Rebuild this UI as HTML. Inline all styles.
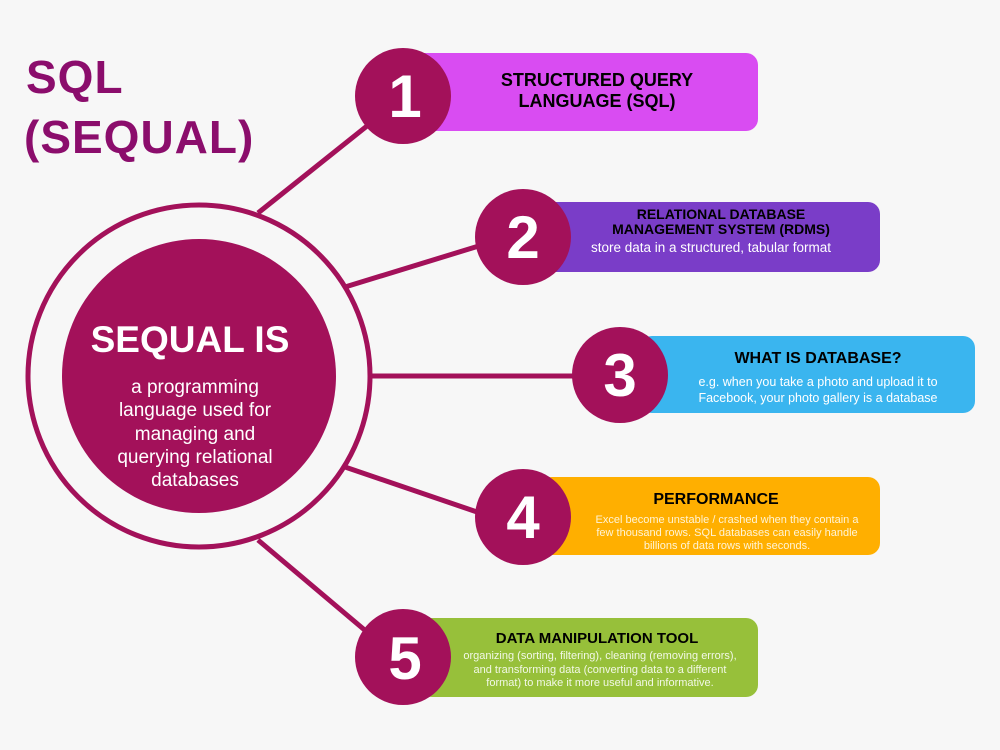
<!DOCTYPE html>
<html><head><meta charset="utf-8"><style>
html,body{margin:0;padding:0;background:#f7f7f7;}
svg{display:block;}
text{font-family:"Liberation Sans",sans-serif;}
</style></head><body>
<svg width="1000" height="750" viewBox="0 0 1000 750" xmlns="http://www.w3.org/2000/svg">
<rect width="1000" height="750" fill="#f7f7f7"/>
<g fill="#8b0d6c" font-weight="bold" font-size="46">
<text x="26" y="93" letter-spacing="1">SQL</text>
<text x="24" y="153" letter-spacing="1">(SEQUAL)</text>
</g>
<g stroke="#a3115a" stroke-width="5" fill="none">
<line x1="258" y1="213" x2="372" y2="122"/>
<line x1="345" y1="287" x2="482" y2="245"/>
<line x1="370" y1="376" x2="578" y2="376"/>
<line x1="345" y1="467" x2="480" y2="513"/>
<line x1="258" y1="540" x2="367" y2="632"/>
<circle cx="199" cy="376" r="171"/>
</g>
<circle cx="199" cy="376" r="137" fill="#a3115a"/>
<text x="190" y="352" fill="#fff" font-weight="bold" font-size="37" text-anchor="middle">SEQUAL IS</text>
<g fill="#fff" font-size="19" text-anchor="middle">
<text x="195" y="393">a programming</text>
<text x="195" y="416">language used for</text>
<text x="195" y="440">managing and</text>
<text x="195" y="463">querying relational</text>
<text x="195" y="486">databases</text>
</g>
<rect x="410" y="53" width="348" height="78" rx="12" fill="#d94cf2"/>
<rect x="540" y="202" width="340" height="70" rx="12" fill="#7a3dc8"/>
<rect x="640" y="336" width="335" height="77" rx="12" fill="#3ab5ef"/>
<rect x="540" y="477" width="340" height="78" rx="12" fill="#ffaf00"/>
<rect x="420" y="618" width="338" height="79" rx="12" fill="#97c03a"/>
<g fill="#a3115a">
<circle cx="403" cy="96" r="48"/>
<circle cx="523" cy="237" r="48"/>
<circle cx="620" cy="375" r="48"/>
<circle cx="523" cy="517" r="48"/>
<circle cx="403" cy="657" r="48"/>
</g>
<g fill="#fff" font-weight="bold" font-size="60" text-anchor="middle">
<text x="405" y="117">1</text>
<text x="523" y="258">2</text>
<text x="620" y="396">3</text>
<text x="523" y="538">4</text>
<text x="405" y="679">5</text>
</g>
<g fill="#000" font-weight="bold" text-anchor="middle">
<text x="597" y="86" font-size="18">STRUCTURED QUERY</text>
<text x="597" y="107" font-size="18">LANGUAGE (SQL)</text>
<text x="721" y="219" font-size="14">RELATIONAL DATABASE</text>
<text x="721" y="234" font-size="14">MANAGEMENT SYSTEM (RDMS)</text>
<text x="818" y="363" font-size="16">WHAT IS DATABASE?</text>
<text x="716" y="504" font-size="16">PERFORMANCE</text>
<text x="597" y="643" font-size="15">DATA MANIPULATION TOOL</text>
</g>
<g fill="#fff" text-anchor="middle">
<text x="711" y="252" font-size="13.5">store data in a structured, tabular format</text>
<text x="818" y="386" font-size="12.5">e.g. when you take a photo and upload it to</text>
<text x="818" y="402" font-size="12.5">Facebook, your photo gallery is a database</text>
<g fill="#fff4d6" font-size="11">
<text x="727" y="523">Excel become unstable / crashed when they contain a</text>
<text x="727" y="536">few thousand rows. SQL databases can easily handle</text>
<text x="727" y="549">billions of data rows with seconds.</text>
</g>
<g fill="#f2f8e6" font-size="11">
<text x="600" y="659">organizing (sorting, filtering), cleaning (removing errors),</text>
<text x="600" y="673">and transforming data (converting data to a different</text>
<text x="600" y="686">format) to make it more useful and informative.</text>
</g>
</g>
</svg>
</body></html>
